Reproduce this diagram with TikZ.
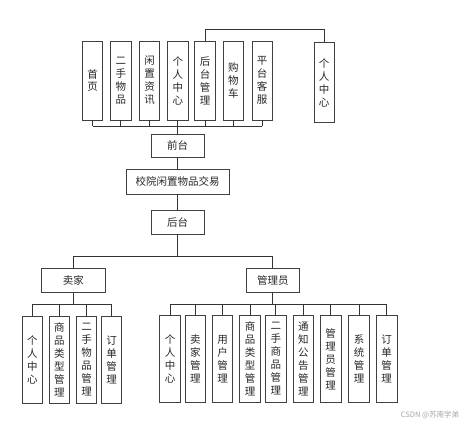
\documentclass[tikz,border=0pt]{standalone}
\usepackage{fontspec}
\newfontfamily\cjk{Noto Sans CJK SC}
\tikzset{
  x=1pt, y=-1pt,
  every node/.style={font=\cjk\fontsize{10.5}{13}\selectfont, text=black!85},
  vbox/.style={draw=black!75, line width=0.9pt, minimum width=20.5pt, inner sep=0pt, align=center},
  hbox/.style={draw=black!75, line width=0.9pt, inner sep=0pt, align=center},
  link/.style={draw=black!80, line width=0.9pt}
}
\begin{document}
\begin{tikzpicture}
\useasboundingbox (0,0) rectangle (474,424);
% top row
\node[vbox, minimum height=79pt] (a1) at (92.5,80.5) {首\\页};
\node[vbox, minimum height=79pt] (a2) at (120.8,80.5) {二\\手\\物\\品};
\node[vbox, minimum height=79pt] (a3) at (149.5,80.5) {闲\\置\\资\\讯};
\node[vbox, minimum height=79pt] (a4) at (177.8,80.5) {个\\人\\中\\心};
\node[vbox, minimum height=79pt] (a5) at (205,80.5) {后\\台\\管\\理};
\node[vbox, minimum height=79pt] (a6) at (233.3,80.5) {购\\物\\车};
\node[vbox, minimum height=79pt] (a7) at (262.2,80.5) {平\\台\\客\\服};
\node[vbox, minimum height=79.6pt] (a8) at (324.2,82.5) {个\\人\\中\\心};
% middle
\node[hbox, minimum width=53pt, minimum height=23.3pt] (f) at (177.5,145.7) {前台};
\node[hbox, minimum width=103pt, minimum height=25.3pt] (m) at (177.5,181.7) {校院闲置物品交易};
\node[hbox, minimum width=53pt, minimum height=24pt] (b) at (177.5,222) {后台};
\node[hbox, minimum width=64pt, minimum height=24.4pt] (s) at (73.3,280.5) {卖家};
\node[hbox, minimum width=53pt, minimum height=24.4pt] (g) at (272.8,280.5) {管理员};
% bottom left
\node[vbox, minimum height=87.3pt] (s1) at (32.3,359.7) {个\\人\\中\\心};
\node[vbox, minimum height=87.3pt] (s2) at (59.3,359.7) {商\\品\\类\\型\\管\\理};
\node[vbox, minimum height=87.3pt] (s3) at (86.5,359.7) {二\\手\\物\\品\\管\\理};
\node[vbox, minimum height=87.3pt] (s4) at (111.5,359.7) {订\\单\\管\\理};
% bottom right
\node[vbox, minimum height=87.7pt] (g1) at (170,358.9) {个\\人\\中\\心};
\node[vbox, minimum height=87.7pt] (g2) at (195.3,358.9) {卖\\家\\管\\理};
\node[vbox, minimum height=87.7pt] (g3) at (222.5,358.9) {用\\户\\管\\理};
\node[vbox, minimum height=87.7pt] (g4) at (250,358.9) {商\\品\\类\\型\\管\\理};
\node[vbox, minimum height=87.7pt] (g5) at (275.8,358.9) {二\\手\\商\\品\\管\\理};
\node[vbox, minimum height=87.7pt] (g6) at (303.3,358.9) {通\\知\\公\\告\\管\\理};
\node[vbox, minimum height=87.7pt] (g7) at (330.7,358.9) {管\\理\\员\\管\\理};
\node[vbox, minimum height=87.7pt] (g8) at (359,358.9) {系\\统\\管\\理};
\node[vbox, minimum height=87.7pt] (g9) at (386.7,358.9) {订\\单\\管\\理};
% watermark
\node[font=\cjk\fontsize{7.5}{9}\selectfont, text=black!35] (wm) at (430,415) {CSDN @苏南学弟};

% connectors: top bus
\coordinate (tb) at (177.5,126);
\foreach \n in {a1,a2,a3,a4,a5,a6,a7} \draw[link] (\n.south) -- (\n.south |- tb);
\draw[link] (a1.south |- tb) -- (a7.south |- tb);
\draw[link] (tb) -- (f.north);
\coordinate (tt) at (205,29.3);
\draw[link] (a5.north) -- (tt) -- (tt -| a8.north) -- (a8.north);
% middle chain
\draw[link] (f) -- (m);
\draw[link] (m) -- (b);
\coordinate (mb) at (177.5,256.7);
\draw[link] (b.south) -- (mb);
\draw[link] (s.north) -- (s.north |- mb) -- (g.north |- mb) -- (g.north);
% left bus
\coordinate (lb) at (73.3,304.3);
\draw[link] (s.south) -- (lb);
\foreach \n in {s1,s2,s3,s4} \draw[link] (\n.north) -- (\n.north |- lb);
\draw[link] (s1.north |- lb) -- (s4.north |- lb);
% right bus
\coordinate (rb) at (272.8,304);
\draw[link] (g.south) -- (rb);
\foreach \n in {g1,g2,g3,g4,g5,g6,g7,g8,g9} \draw[link] (\n.north) -- (\n.north |- rb);
\draw[link] (g1.north |- rb) -- (g9.north |- rb);
\end{tikzpicture}
\end{document}
